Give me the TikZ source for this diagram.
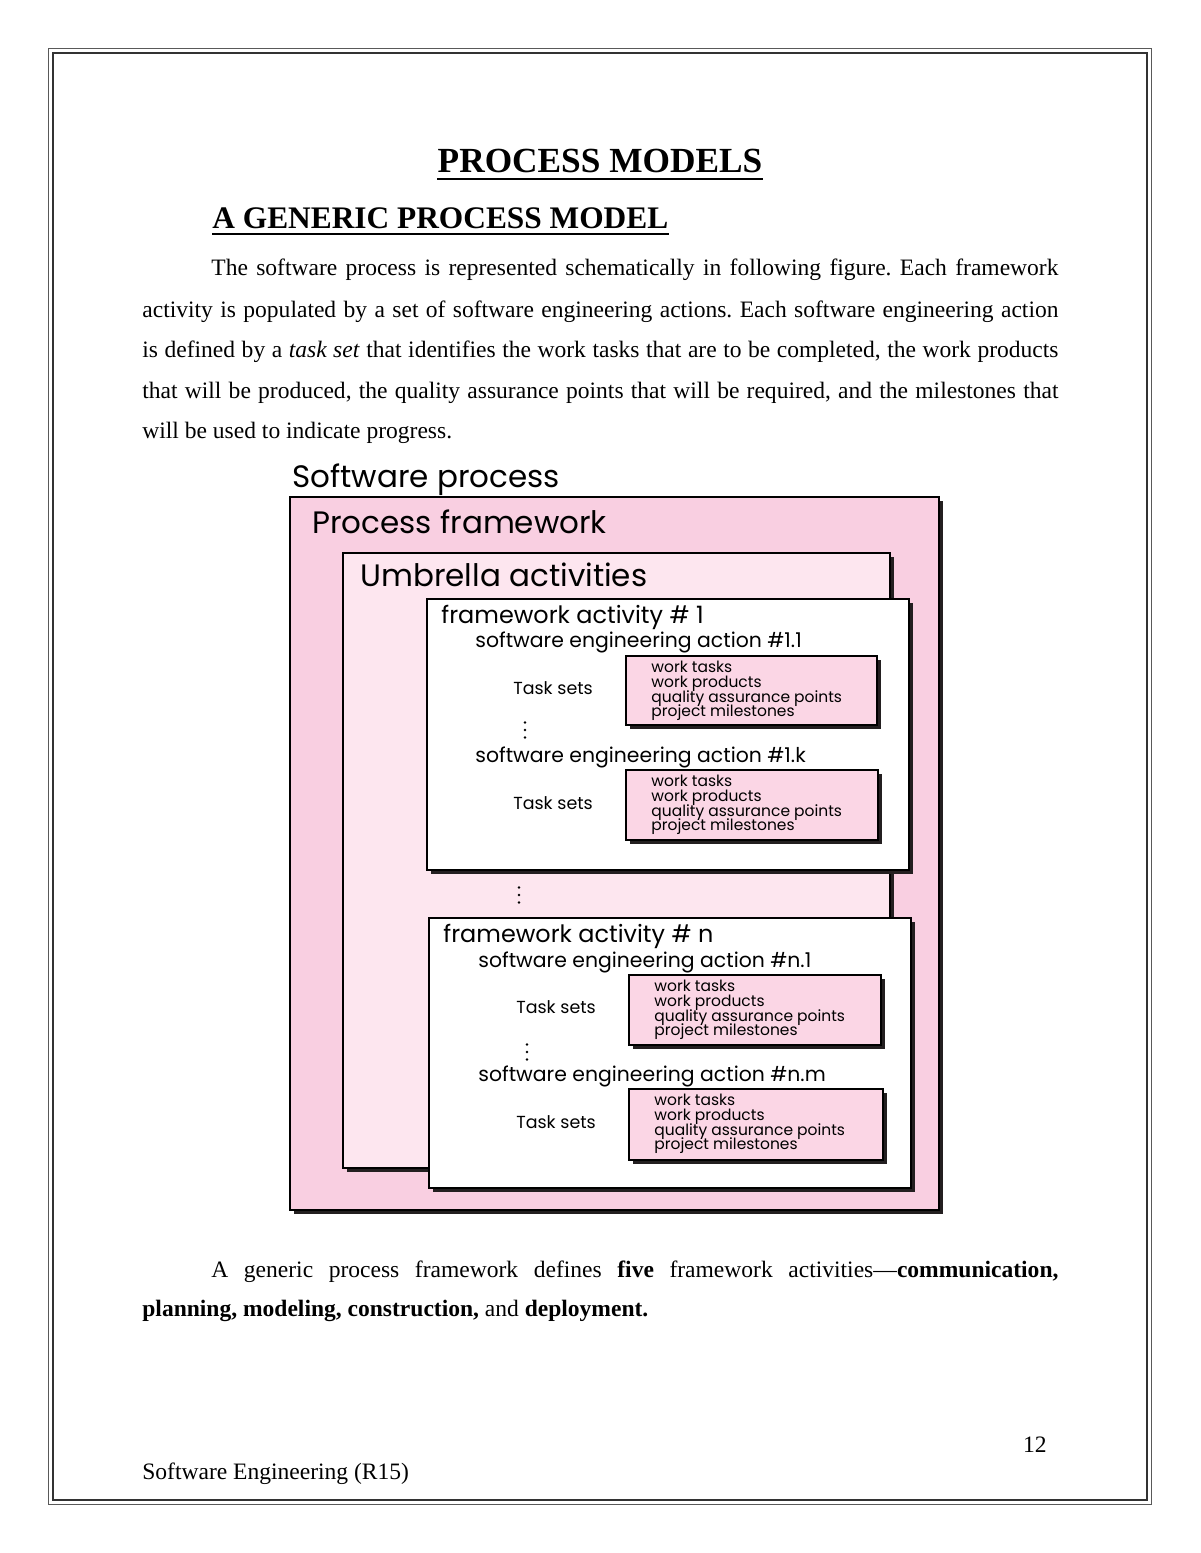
\documentclass[tikz,border=0pt]{standalone}
\usepackage{fontspec}
\setmainfont{Liberation Serif}
\newfontfamily\fut{Poppins}
\definecolor{pinkA}{RGB}{249,207,225}
\definecolor{pinkB}{RGB}{253,230,239}
\definecolor{pinkC}{RGB}{251,214,229}
\definecolor{shadowc}{RGB}{35,31,32}
\newcommand\ShBox[5]{%
  \fill[shadowc] (#1+4,#2+4) rectangle (#3+4,#4+4);
  \filldraw[fill=#5,draw=black,line width=0.6pt] (#1,#2) rectangle (#3,#4);}
\newcommand\VDots[2]{%
  \fill (#1,#2-7.5) circle (1.3) (#1,#2) circle (1.3) (#1,#2+7.5) circle (1.3);}
\newcommand\TightLines{\lineskiplimit=-20pt\relax\lineskip=0pt\relax}
\tikzset{
  lbl/.style={anchor=west,inner sep=0pt,font=\fut},
  big/.style={lbl,font=\fut\fontsize{15.8}{17}\selectfont},
  fa/.style={lbl,font=\fut\fontsize{12.2}{14}\selectfont},
  act/.style={lbl,font=\fut\fontsize{10.4}{12}\selectfont},
  tsets/.style={lbl,font=\fut\fontsize{8.9}{10}\selectfont},
  items/.style={anchor=north west,inner sep=0pt,align=left,
    font=\fut\fontsize{7.9}{7.5}\selectfont\TightLines},
  body/.style={anchor=base west,inner sep=0pt,font=\fontsize{12}{14}\selectfont},
}
\begin{document}
\frenchspacing
\begin{tikzpicture}[x=0.51pt,y=-0.51pt]
\useasboundingbox (0,0) rectangle (1200,1553);
\fill[white] (0,0) rectangle (1200,1553);
% page border
\draw[gray!70!black,line width=0.7pt] (48.5,48.5) rectangle (1151.5,1504.5);
\draw[black!80,line width=1.1pt] (53,53) rectangle (1147,1500);
% headings
\node[anchor=base,inner sep=0pt,font=\fontsize{18}{20}\selectfont\bfseries] (h1) at (600,173) {PROCESS MODELS};
\draw[line width=1.4pt] ([yshift=-3pt]h1.base west) -- ([yshift=-3pt]h1.base east);
\node[anchor=base west,inner sep=0pt,font=\fontsize{16}{18}\selectfont\bfseries] (h2) at (212,229) {A GENERIC PROCESS MODEL};
\draw[line width=1.3pt] ([yshift=-2.6pt]h2.base west) -- ([yshift=-2.6pt]h2.base east);
% paragraph 1
\node[body] (p1) at (211,276) {\makebox[432pt][s]{The software process is represented schematically in following figure. Each framework}};
\node[body] (p2) at (142,317) {\makebox[467.2pt][s]{activity is populated by a set of software engineering actions. Each software engineering action}};
\node[body] (p3) at (142,357) {\makebox[467.2pt][s]{is defined by a \textit{task set} that identifies the work tasks that are to be completed, the work products}};
\node[body] (p4) at (142,398) {\makebox[467.2pt][s]{that will be produced, the quality assurance points that will be required, and the milestones that}};
\node[body] (p5) at (142,438) {will be used to indicate progress.};
% diagram
\node[big] (sp) at (292,480) {Software process};
\ShBox{290}{497}{939}{1210}{pinkA}
\node[big] (pf) at (312,522) {Process framework};
\ShBox{343}{553}{890}{1168}{pinkB}
\node[big] (ua) at (360,575) {Umbrella activities};
% framework activity 1
\ShBox{427}{599}{909}{870}{white}
\node[fa] (fa1) at (441,617) {framework activity \# 1};
\node[act] (a11) at (475,642) {software engineering action \#1.1};
\ShBox{626}{656}{877}{725}{pinkC}
\node[tsets] (ts1) at (513,688) {Task sets};
\node[items] (it1) at (651,661) {work tasks\\work products\\quality assurance points\\project milestones};
\VDots{525}{730}
\node[act] (a1k) at (475,757) {software engineering action \#1.k};
\ShBox{626}{770}{878}{840}{pinkC}
\node[tsets] (ts2) at (513,803) {Task sets};
\node[items] (it2) at (651,775) {work tasks\\work products\\quality assurance points\\project milestones};
\VDots{519}{895}
% framework activity n
\ShBox{429}{918}{911}{1188}{white}
\node[fa] (fan) at (443,936) {framework activity \# n};
\node[act] (an1) at (478,962) {software engineering action \#n.1};
\ShBox{629}{975}{881}{1045}{pinkC}
\node[tsets] (ts3) at (516,1007) {Task sets};
\node[items] (it3) at (654,980) {work tasks\\work products\\quality assurance points\\project milestones};
\VDots{527}{1052}
\node[act] (anm) at (478,1076) {software engineering action \#n.m};
\ShBox{629}{1089}{883}{1160}{pinkC}
\node[tsets] (ts4) at (516,1122) {Task sets};
\node[items] (it4) at (654,1094) {work tasks\\work products\\quality assurance points\\project milestones};
% paragraph 2
\node[body] (q1) at (211,1277) {\makebox[432pt][s]{A generic process framework defines \textbf{five} framework activities---\textbf{communication,}}};
\node[body] (q2) at (142,1316) {\textbf{planning, modeling, construction,} and \textbf{deployment.}};
% footer
\node[body] (ft) at (142,1479) {Software Engineering (R15)};
\node[anchor=base east,inner sep=0pt,font=\fontsize{12}{14}\selectfont] (pg) at (1047,1452) {12};
\end{tikzpicture}
\end{document}
